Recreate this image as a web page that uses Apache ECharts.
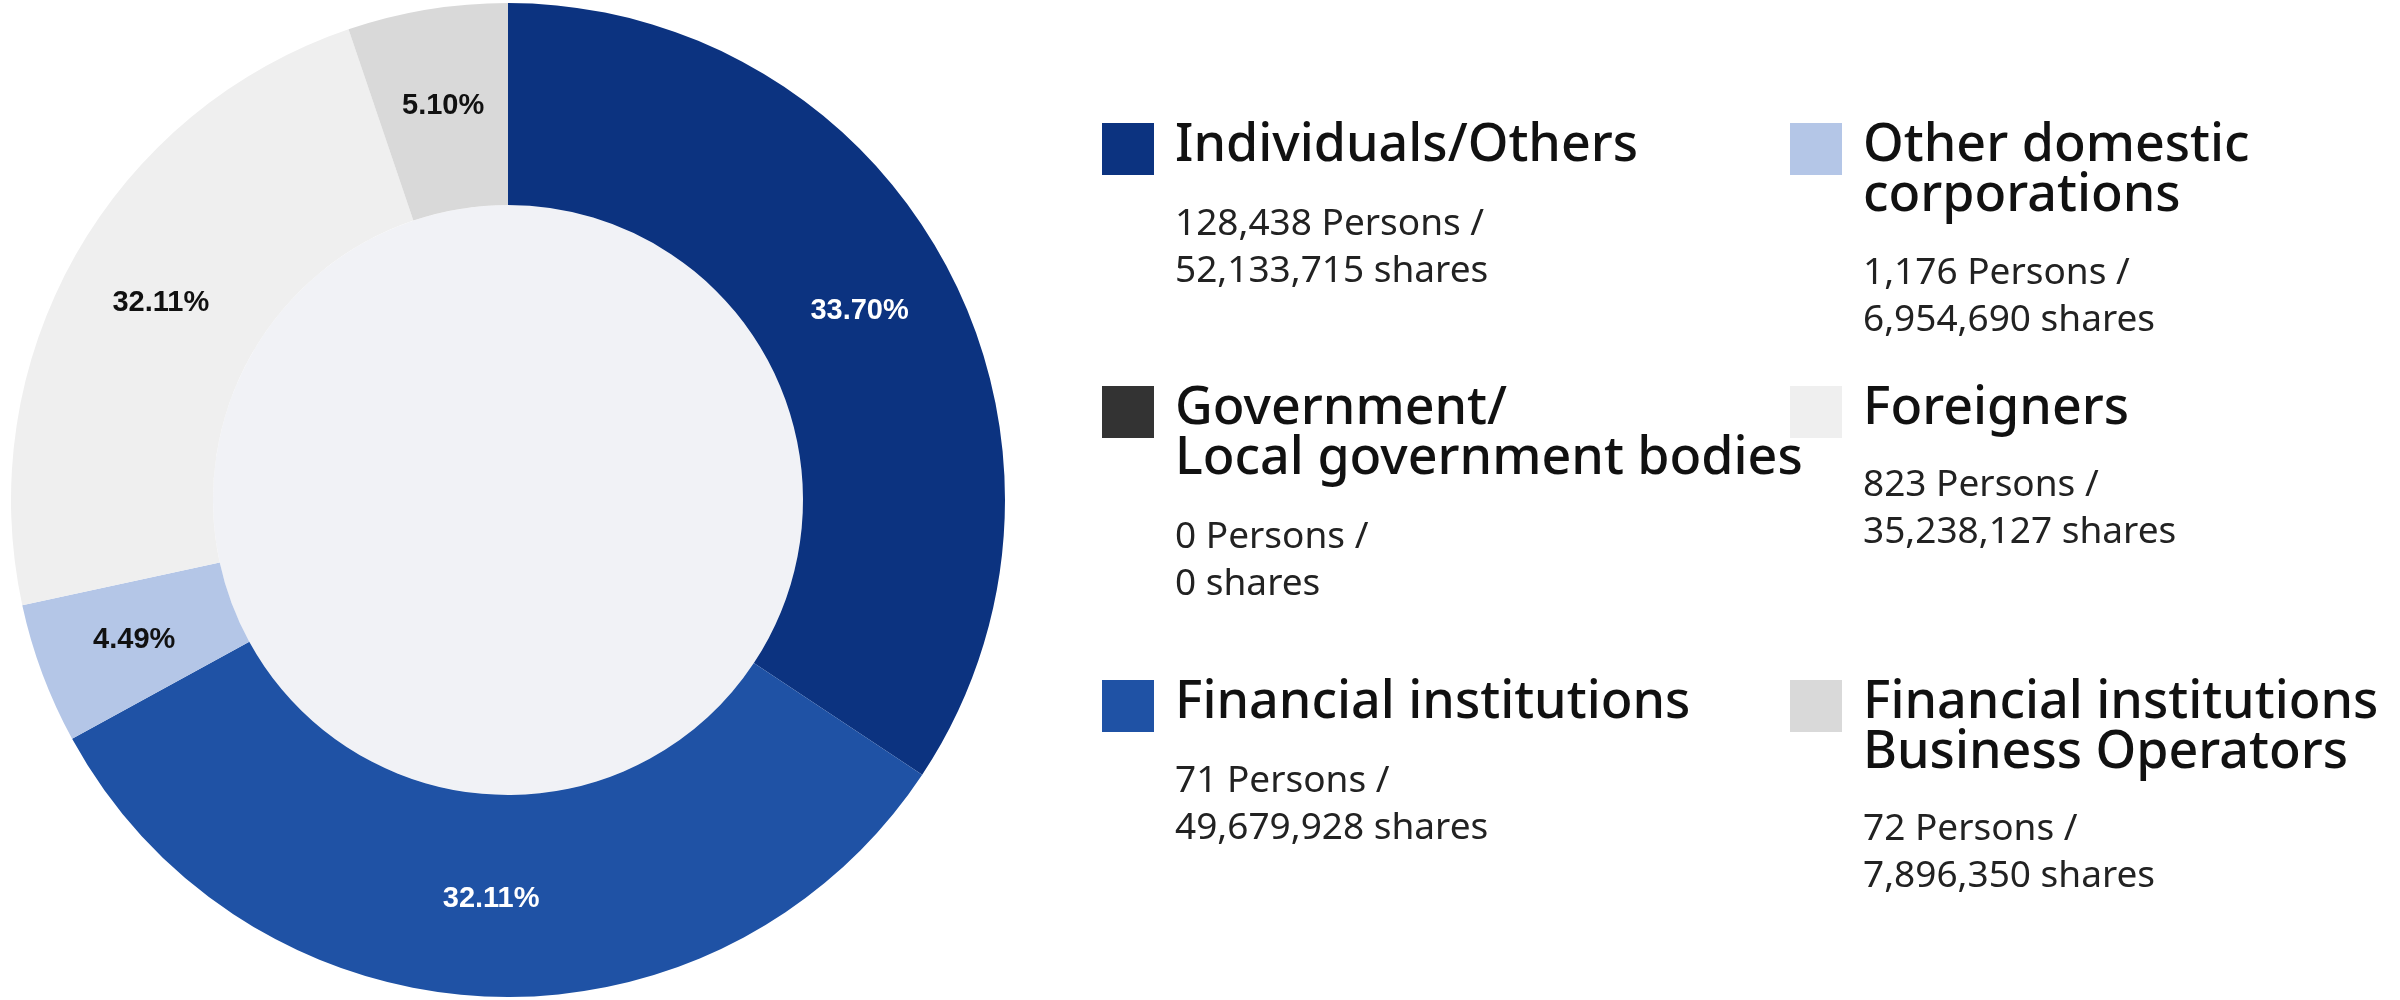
<!DOCTYPE html>
<html>
<head>
<meta charset="utf-8">
<script src="https://cdn.jsdelivr.net/npm/echarts@6/dist/echarts.min.js"></script>
<style>html,body{margin:0;padding:0;background:#fff}#chart{width:2400px;height:1000px}</style>
</head>
<body>
<div id="chart"></div>
<script>
// data, clockwise from the top
var categories = ['Individuals/Others', 'Financial institutions', 'Other domestic corporations',
    'Foreigners', 'Financial institutions Business Operators', 'Government/Local government bodies'];
var shares = [52133715, 49679928, 6954690, 35238127, 7896350, 0];
var persons = [128438, 71, 1176, 823, 72, 0];
var percentLabels = ['33.70%', '32.11%', '4.49%', '32.11%', '5.10%', ''];
var colors = ['#0c3380', '#1f52a5', '#b4c6e7', '#efefef', '#d9d9d9', '#333333'];
var labelColors = ['#fff', '#fff', '#111', '#111', '#111', '#111'];

var chart = echarts.init(document.getElementById('chart'));

var pieData = categories.map(function (name, i) {
    return {
        name: name, value: shares[i],
        itemStyle: {color: colors[i]},
        label: {show: shares[i] > 0, color: labelColors[i], formatter: percentLabels[i]}
    };
});

function fmt(n) { return n.toLocaleString('en-US'); }

// legend blocks: [category index, x, title lines, title y, sub y]
var legendBlocks = [
    [0, 1102, ['Individuals/Others'], 150, 226],
    [5, 1102, ['Government/', 'Local government bodies'], 413, 539],
    [1, 1102, ['Financial institutions'], 707, 783],
    [2, 1790, ['Other domestic', 'corporations'], 150, 275],
    [3, 1790, ['Foreigners'], 413, 487],
    [4, 1790, ['Financial institutions', 'Business Operators'], 707, 831]
];
var graphics = [];
legendBlocks.forEach(function (b) {
    var i = b[0];
    graphics.push({type: 'rect', left: b[1], top: b[3] - 27, shape: {width: 52, height: 52},
        style: {fill: colors[i]}});
    b[2].forEach(function (line, k) {
        graphics.push({type: 'text', left: b[1] + 73, top: b[3] - 30 + k * 50,
            style: {text: line, font: '500 52px "Noto Sans"', fill: '#111'}});
    });
    var sub = [fmt(persons[i]) + ' Persons /', fmt(shares[i]) + ' shares'];
    sub.forEach(function (line, k) {
        graphics.push({type: 'text', left: b[1] + 73, top: b[4] - 20 + k * 47,
            style: {text: line, font: '400 37px "Noto Sans"', fill: '#222'}});
    });
});

var option = {
    animation: false,
    graphic: graphics,
    series: [
        {
            type: 'pie', center: [508, 500], radius: [0, 295], silent: true,
            label: {show: false}, itemStyle: {color: '#f1f2f6'},
            data: [{value: 1}]
        },
        {
            type: 'pie', center: [508, 500], radius: [295, 497],
            startAngle: 90, clockwise: true,
            label: {position: 'inside', fontFamily: 'Liberation Sans', fontWeight: 'bold', fontSize: 29},
            labelLine: {show: false},
            data: pieData
        }
    ]
};
chart.setOption(option);
</script>
</body>
</html>
